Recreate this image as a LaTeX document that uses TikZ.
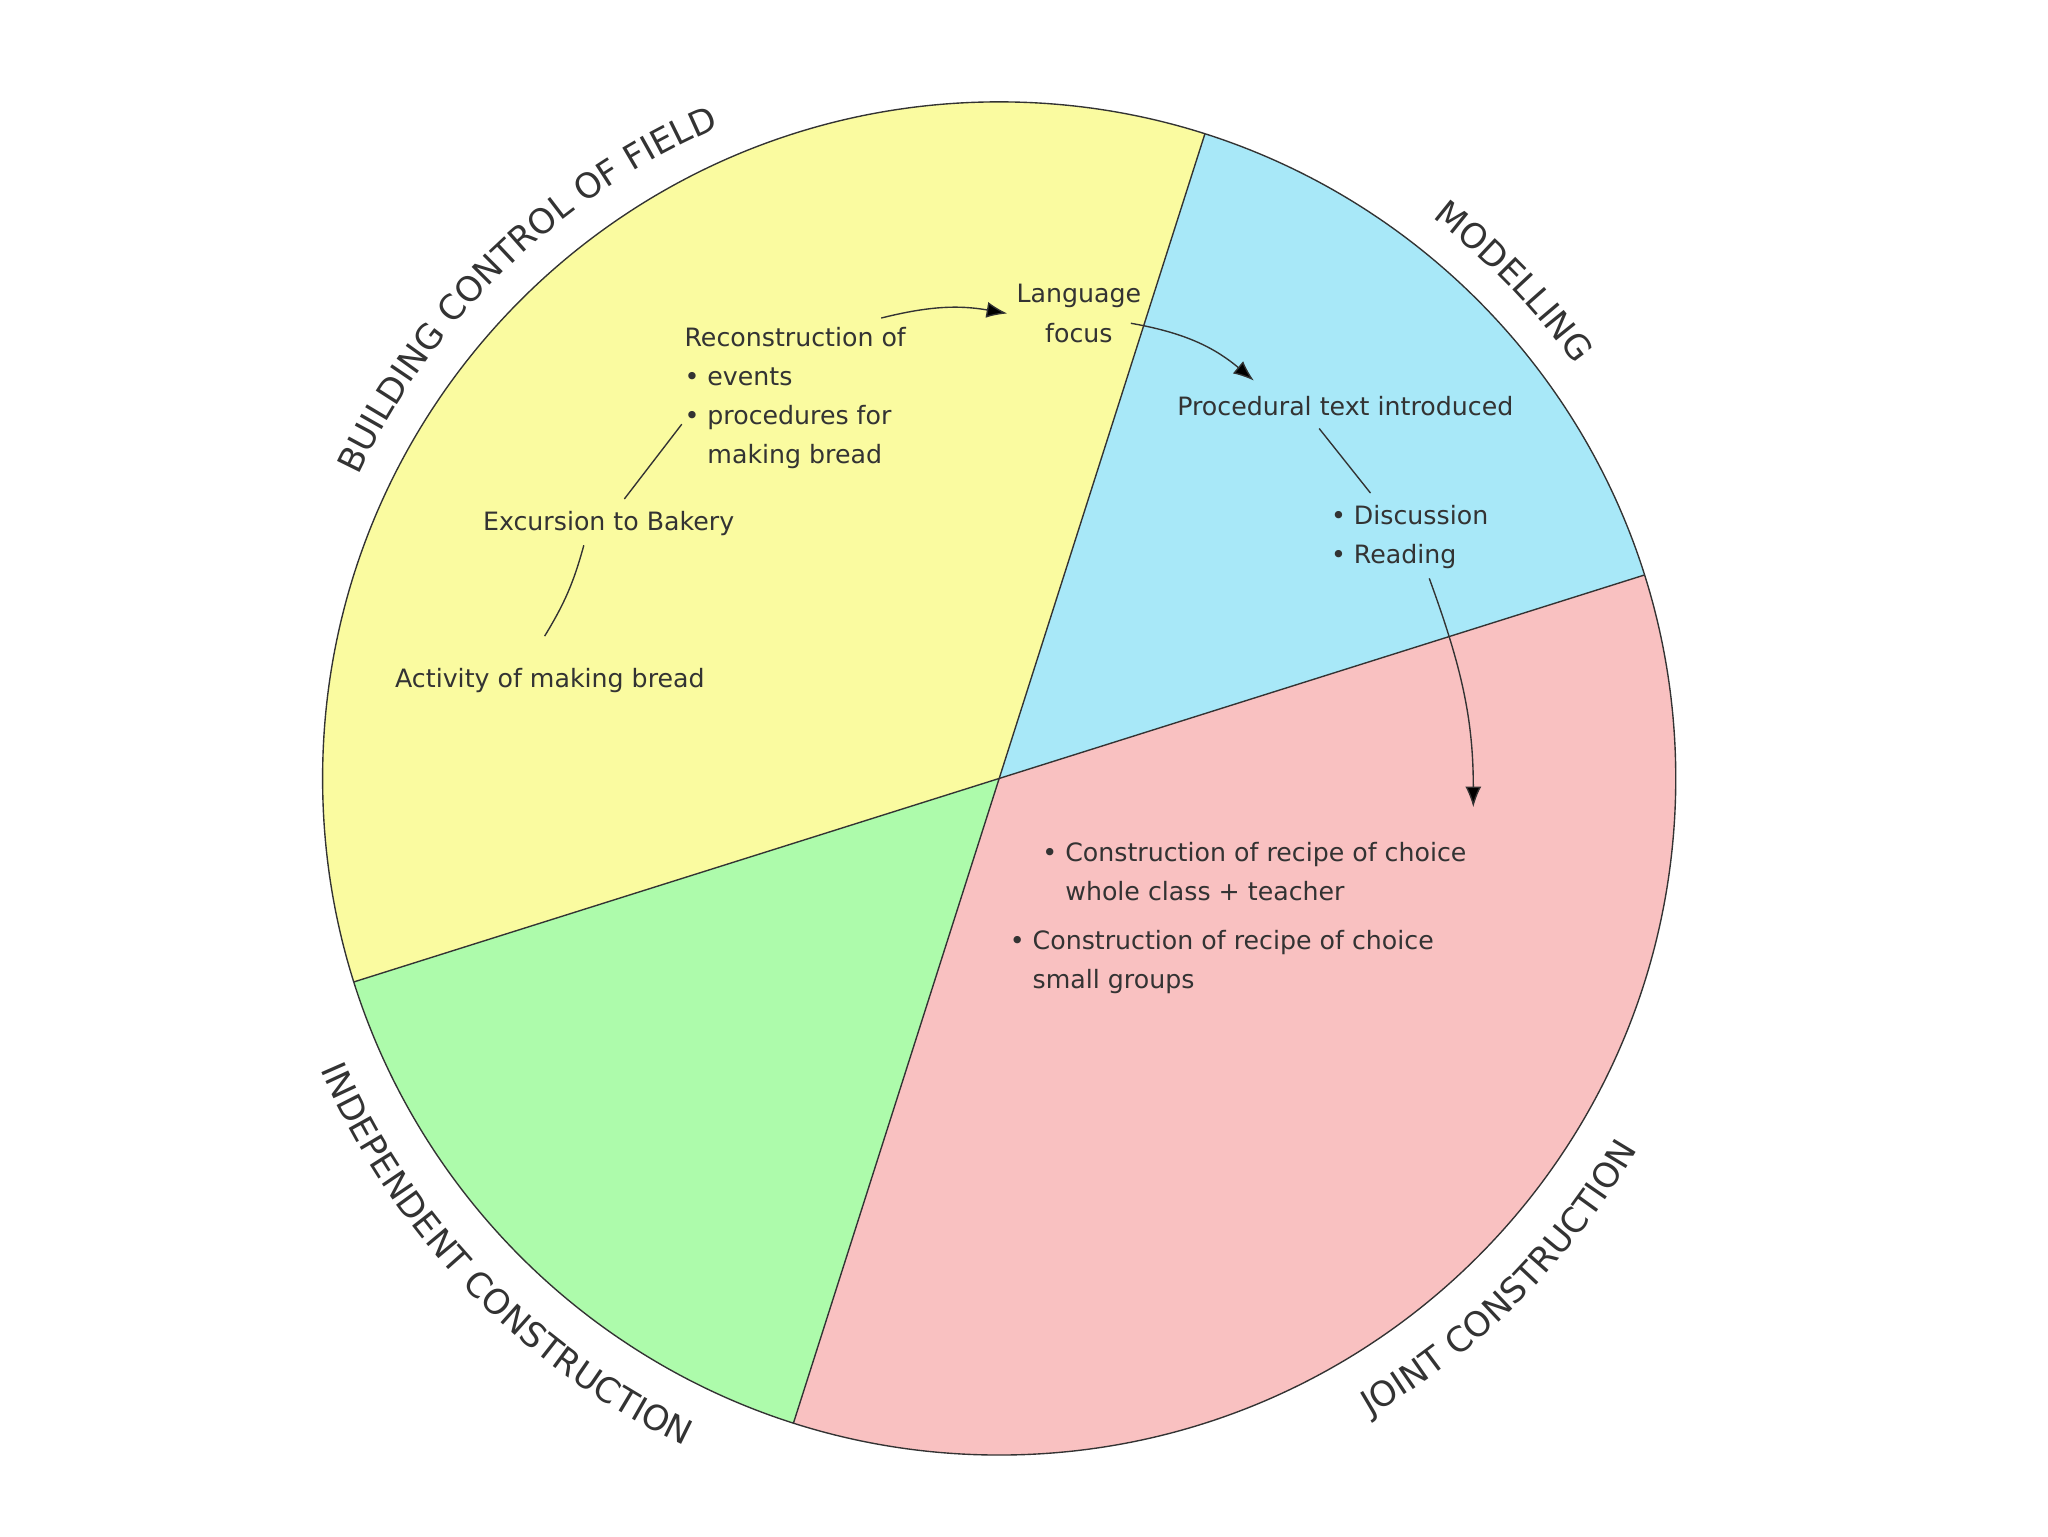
\documentclass[tikz,border=0pt]{standalone}
\usepackage{fontspec}
\setmainfont{DejaVu Sans}
\usetikzlibrary{decorations.text,arrows.meta}
\definecolor{yel}{HTML}{FAFBA0}
\definecolor{blu}{HTML}{A8E8F8}
\definecolor{pnk}{HTML}{F9C1C1}
\definecolor{grn}{HTML}{ADFBAB}
\definecolor{ink}{HTML}{333333}
\begin{document}
\begin{tikzpicture}[
  txt/.style={text=ink,font=\fontsize{11}{17}\selectfont,inner sep=1pt},
  conn/.style={draw=ink,line width=0.6pt},
  arr/.style={conn,-{Latex[length=9pt,width=7pt]}},
  lab/.style={decorate,decoration={text along path,text align=center,
     text color=ink}}
]
\useasboundingbox (-15.3,-11.6) rectangle (16.06,11.92);
\def\R{10.36}
\coordinate (c) at (0,0);
\fill[yel] (c) -- (72.3:\R) arc[start angle=72.3,end angle=197.5,radius=\R] -- cycle;
\fill[blu] (c) -- (17.5:\R) arc[start angle=17.5,end angle=72.3,radius=\R] -- cycle;
\fill[pnk] (c) -- (252.3:\R) arc[start angle=252.3,end angle=377.5,radius=\R] -- cycle;
\fill[grn] (c) -- (197.5:\R) arc[start angle=197.5,end angle=252.3,radius=\R] -- cycle;
\draw[ink,line width=0.6pt] (c) circle[radius=\R];
\draw[ink,line width=0.6pt] (72.3:\R) -- (252.3:\R);
\draw[ink,line width=0.6pt] (17.5:\R) -- (197.5:\R);

\path[lab,decoration={text={|\fontsize{15}{15}\selectfont|BUILDING CONTROL OF FIELD}}]
  (164:10.85) arc[start angle=164,end angle=104,radius=10.85];
\path[lab,decoration={text={|\fontsize{15}{15}\selectfont|MODELLING}}]
  (74:10.85) arc[start angle=74,end angle=14,radius=10.85];
\path[lab,decoration={text={|\fontsize{15}{15}\selectfont|INDEPENDENT CONSTRUCTION}}]
  (194:11.3) arc[start angle=194,end angle=254,radius=11.3];
\path[lab,decoration={text={|\fontsize{15}{15}\selectfont|JOINT CONSTRUCTION}}]
  (-75:11.3) arc[start angle=-75,end angle=-15,radius=11.3];

\node[txt,anchor=north west,align=left] (rec) at (-4.86,6.95)
  {Reconstruction of\\ • events\\ • procedures for\\ \phantom{• }making bread};
\node[txt,align=center] (lang) at (1.22,7.12) {Language\\focus};
\node[txt] (proc) at (5.3,5.7) {Procedural text introduced};
\node[txt,anchor=north west,align=left] (disc) at (5.04,4.22) {• Discussion\\• Reading};
\node[txt] (exc) at (-5.98,3.9) {Excursion to Bakery};
\node[txt] (act) at (-6.88,1.5) {Activity of making bread};
\node[txt,anchor=north west,align=left] (jc1) at (0.62,-0.94)
  {• Construction of recipe of choice\\ \phantom{• }whole class + teacher};
\node[txt,anchor=north west,align=left] (jc2) at (0.12,-2.28)
  {• Construction of recipe of choice\\ \phantom{• }small groups};
\coordinate (jtip) at (7.26,-0.44);

\draw[conn] ([xshift=-0.08cm,yshift=0.45cm]act.north) to[bend right=8] ([xshift=-0.38cm,yshift=-0.1cm]exc.south);
\draw[conn] ([xshift=0.24cm,yshift=0.15cm]exc.north) -- ([yshift=-0.4cm]rec.west);
\draw[arr] ([xshift=-0.42cm,yshift=0.1cm]rec.north east) to[bend left=12] ([xshift=-0.1cm]lang.west);
\draw[arr] ([yshift=-0.15cm,xshift=-0.2cm]lang.east) to[bend left=15] ([xshift=-1.4cm,yshift=0.2cm]proc.north);
\draw[conn] ([xshift=-0.4cm,yshift=-0.15cm]proc.south) -- ([xshift=-0.6cm,yshift=0.15cm]disc.north);
\draw[arr] ([xshift=0.3cm,yshift=-0.1cm]disc.south) to[out=-70,in=90] (jtip);
\end{tikzpicture}
\end{document}
